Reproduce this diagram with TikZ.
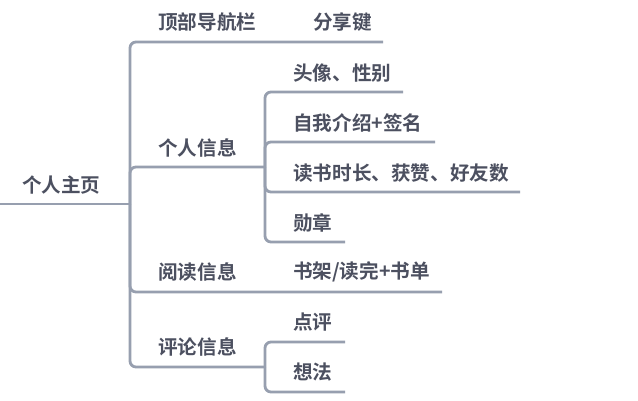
\documentclass[tikz,border=0pt]{standalone}
\usepackage{fontspec}
\newfontfamily\cjk{Noto Sans CJK SC}[BoldFont={Noto Sans CJK SC Bold}]
\definecolor{linec}{HTML}{979FAF}
\definecolor{textc}{HTML}{4C5060}
\begin{document}
\begin{tikzpicture}[x=1pt,y=-1pt,
  lbl/.style={anchor=west,inner sep=0pt,text=textc,font=\cjk\bfseries\fontsize{19.6}{20}\selectfont},
  branchline/.style={draw=linec,line width=2.8pt,rounded corners=6pt}]
\useasboundingbox[fill=white] (0,0) rectangle (638,400);
% junction coordinates
\coordinate (r0) at (0,204);
\coordinate (rj) at (130,204);
\coordinate (e1) at (383,42);
\coordinate (j2) at (265,167);
\coordinate (e21) at (403,92);
\coordinate (e22) at (435,142);
\coordinate (e23) at (520,192);
\coordinate (e24) at (345,242);
\coordinate (e3) at (442,292);
\coordinate (j4) at (265,367);
\coordinate (e41) at (345,342);
\coordinate (e42) at (345,392);
% texts
\node[lbl] (root) at (22,185) {个人主页};
\node[lbl] (n1) at (158,22) {顶部导航栏};
\node[lbl] (n1a) at (313,22) {分享键};
\node[lbl] (n2) at (158,148) {个人信息};
\node[lbl] (n21) at (293,73) {头像、性别};
\node[lbl] (n22) at (293,123) {自我介绍+签名};
\node[lbl] (n23) at (293,173) {读书时长、获赞、好友数};
\node[lbl] (n24) at (293,223) {勋章};
\node[lbl] (n3) at (158,272) {阅读信息};
\node[lbl] (n3a) at (293,272) {书架/读完+书单};
\node[lbl] (n4) at (158,347) {评论信息};
\node[lbl] (n41) at (293,322) {点评};
\node[lbl] (n42) at (293,372) {想法};
% connectors
\draw[branchline] (r0) -- (rj);
\draw[branchline] (rj) |- (e1);
\draw[branchline] (rj) |- (j2);
\draw[branchline] (rj) |- (e3);
\draw[branchline] (rj) |- (j4);
\draw[branchline] (j2) |- (e21);
\draw[branchline] (j2) |- (e22);
\draw[branchline] (j2) |- (e23);
\draw[branchline] (j2) |- (e24);
\draw[branchline] (j4) |- (e41);
\draw[branchline] (j4) |- (e42);
\end{tikzpicture}
\end{document}
